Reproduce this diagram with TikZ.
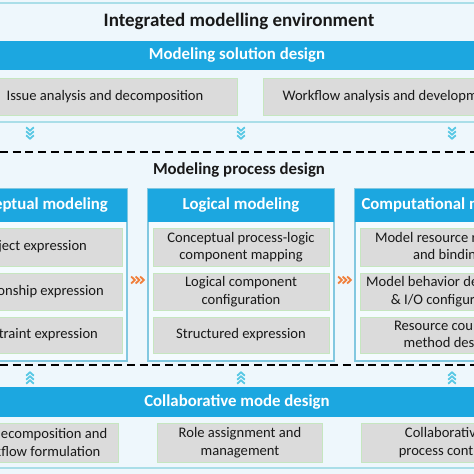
\documentclass[tikz,border=0pt]{standalone}
\usepackage{fontspec}
\setmainfont{Carlito}
\usetikzlibrary{calc}
\definecolor{bgc}{RGB}{238,247,252}
\definecolor{bluebar}{RGB}{28,167,224}
\definecolor{grayfill}{RGB}{219,219,219}
\definecolor{grayedge}{RGB}{198,230,192}
\definecolor{paneledge}{RGB}{130,200,224}
\definecolor{panelfill}{RGB}{244,251,254}
\definecolor{lineteal}{RGB}{170,222,232}
\definecolor{chevcyan}{RGB}{88,200,228}
\definecolor{chevorange}{RGB}{240,128,60}
\definecolor{txt}{RGB}{25,25,25}
\tikzset{
  bar/.style={fill=bluebar, draw=none, text=white, font=\fontsize{16.8}{20}\selectfont\bfseries, inner sep=0pt},
  gbox/.style={fill=grayfill, draw=grayedge, line width=1pt, text=txt, font=\fontsize{14.6}{17.5}\selectfont, align=center, inner sep=0pt},
  panelbox/.style={fill=panelfill, draw=paneledge, line width=1.2pt, inner sep=0pt},
  heading/.style={text=txt, font=\fontsize{16.8}{20}\selectfont\bfseries, inner sep=0pt},
  dashsep/.style={draw=black, line width=2.6pt, dash pattern=on 8pt off 4.7pt},
  chevd/.pic={
    \foreach \k in {-4,0,4}{\draw[chevcyan, line width=1.8pt, line join=miter] (-3.8,\k-1.7) -- (0,\k+1.7) -- (3.8,\k-1.7);}
  },
  chevu/.pic={
    \foreach \k in {-4,0,4}{\draw[chevcyan, line width=1.8pt, line join=miter] (-3.8,\k+1.7) -- (0,\k-1.7) -- (3.8,\k+1.7);}
  },
  chevr/.pic={
    \foreach \k in {-4.5,0,4.5}{\draw[chevorange, line width=1.8pt, line join=miter] (\k-1.8,-3.5) -- (\k+1.8,0) -- (\k-1.8,3.5);}
  }
}
\begin{document}
\begin{tikzpicture}[x=1pt,y=-1pt]
\useasboundingbox (0,0) rectangle (474,474);
\clip (0,0) rectangle (474,474);
\fill[bgc] (0,0) rectangle (474,474);
% solution panel
\node[draw=lineteal, line width=1.2pt, fill=bgc, minimum width=490pt, minimum height=119pt, inner sep=0pt] (solpanel) at (237,62.5) {};
\node[text=txt, font=\fontsize{19}{22}\selectfont\bfseries, inner sep=0pt] (title) at (239,21) {Integrated modelling environment};
\node[bar, minimum width=490pt, minimum height=29pt] (solbar) at (237,55.5) {Modeling solution design};
\node[gbox, minimum width=267pt, minimum height=37pt] (issue) at (103.5,96.5) {};
\node[text=txt, font=\fontsize{14.6}{17.5}\selectfont, inner sep=0pt] (issuet) at (105,96.5) {Issue analysis and decomposition};
\node[gbox, minimum width=254pt, minimum height=37pt] (workflow) at (390,96.5) {Workflow analysis and development};
% chevrons down
\pic at (30,133) {chevd};
\pic at (241,133) {chevd};
\pic at (452,133) {chevd};
\coordinate (dl1) at (0,152);
\coordinate (dr1) at (474,152);
\draw[dashsep] (dl1) -- (dr1);
\node[heading] (proc) at (239,170) {Modeling process design};
% columns
\foreach \c/\n/\h/\a/\b/\d in {
  34/c1/Conceptual modeling/Object expression/Relationship expression/Constraint expression,
  241/c2/Logical modeling/{Conceptual process-logic\\component mapping}/{Logical component\\configuration}/Structured expression,
  448/c3/Computational modeling/{Model resource retrieval\\and binding}/{Model behavior description\\\& I/O configuration}/{Resource coupling\\method design}}{
  \node[panelbox, minimum width=186pt, minimum height=172pt] (\n) at (\c,275) {};
  \node[bar, minimum width=186pt, minimum height=33pt] (\n h) at (\c,205.5) {\h};
  \node[gbox, minimum width=176pt, minimum height=38pt] (\n a) at (\c,247) {\a};
  \node[gbox, minimum width=176pt, minimum height=37pt] (\n b) at (\c,291.5) {\b};
  \node[gbox, minimum width=176pt, minimum height=36pt] (\n d) at (\c,335) {\d};
}
\pic at ($(c1.east)!0.5!(c2.west)+(0,5)$) {chevr};
\pic at ($(c2.east)!0.5!(c3.west)+(0,5)$) {chevr};
\coordinate (dl2) at (0,365);
\coordinate (dr2) at (474,365);
\draw[dashsep] (dl2) -- (dr2);
% chevrons up
\pic at (30,378) {chevu};
\pic at (241,378) {chevu};
\pic at (452,378) {chevu};
% collaborative
\node[bar, minimum width=490pt, minimum height=30pt] (colbar) at (237,402) {Collaborative mode design};
\node[gbox, minimum width=165pt, minimum height=39pt] (task) at (36,442.5) {Task decomposition and\\workflow formulation};
\node[gbox, minimum width=165pt, minimum height=39pt] (role) at (240,442.5) {Role assignment and\\management};
\node[gbox, minimum width=165pt, minimum height=39pt] (collab) at (444,442.5) {Collaborative\\process control};
\coordinate (bl) at (0,468);
\coordinate (br) at (474,468);
\draw[lineteal, line width=2pt] (bl) -- (br);
\end{tikzpicture}
\end{document}
